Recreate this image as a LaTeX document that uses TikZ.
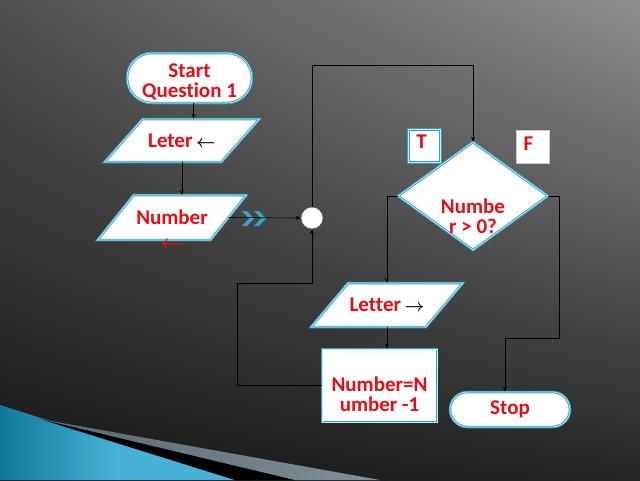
\documentclass[tikz,border=0pt]{standalone}
\usepackage{fontspec}
\usepackage{bm}
\setmainfont{Carlito}[Ligatures={NoCommon}]
\usetikzlibrary{shapes.misc,arrows.meta,calc,shadings}
\definecolor{tealb}{RGB}{50,160,192}
\definecolor{tealin}{RGB}{205,236,245}
\definecolor{txtred}{RGB}{232,12,22}
\definecolor{chevc}{RGB}{58,162,198}
\definecolor{bgul}{RGB}{80,80,80}
\definecolor{bgur}{RGB}{142,142,142}
\definecolor{bgll}{RGB}{22,22,22}
\definecolor{bglr}{RGB}{36,36,36}
\definecolor{blueA}{RGB}{16,122,156}
\definecolor{blueB}{RGB}{72,178,214}
\definecolor{grayA}{RGB}{88,104,112}
\definecolor{grayB}{RGB}{128,144,152}
\newcommand\paral[8]{% name, cx, cy, w, h, off, label opts, text
  \path[shapebox] ({#2-#4/2+#6/2},{#3-#5/2}) -- ({#2+#4/2+#6/2},{#3-#5/2})
     -- ({#2+#4/2-#6/2},{#3+#5/2}) -- ({#2-#4/2-#6/2},{#3+#5/2}) -- cycle;
  \node[ghost, minimum width=#4pt, minimum height=#5pt,
        label={[txt,#7]center:{#8}}] (#1) at (#2,#3) {};}
\newcommand\blackarrow[1]{{\color{black}\fontsize{17}{17}\selectfont$\bm{#1}$}}
\begin{document}
\begin{tikzpicture}[x=1pt,y=-1pt,
  shapebox/.style={fill=white, draw=tealb, line width=0.9pt, double=tealin, double distance=0.7pt},
  txt/.style={text=txtred, font=\fontsize{21}{20}\selectfont\bfseries, align=center, inner sep=0pt},
  ghost/.style={draw=none, fill=none, inner sep=0pt, rectangle},
  term/.style={shapebox, rounded rectangle, inner sep=0pt},
  arr/.style={draw=black, line width=0.6pt, -{Stealth[length=5pt,width=4pt]}}]
\useasboundingbox (0,0) rectangle (640,480);
% background
\shade[upper left=bgul, upper right=bgur, lower left=bgll, lower right=bglr] (0,0) rectangle (640,480);
\shade[left color=blueA, right color=blueB, middle color=blueB] (0,405) -- (235,480) -- (0,480) -- cycle;
\fill[black] (40,419) -- (235,480) -- (295,480) -- cycle;
\shade[left color=grayA, right color=grayB] (40,419) -- (295,480) -- (380,480) -- cycle;
% shapes
\node[term, minimum width=125pt, minimum height=50pt,
      label={[txt,yshift=-4pt]center:{Start\\Question 1}}] (start) at (189.5,78) {};
\paral{leter}{182}{140.5}{117}{43}{38}{}{Leter\,\blackarrow{\leftarrow}}
\paral{number}{172}{217.5}{113}{45}{36}{yshift=-12pt}{Number\\[5pt]{\fontsize{20}{20}\selectfont$\bm{\leftarrow}$}}
\paral{letter}{387}{305}{115}{44}{37}{}{Letter\,\blackarrow{\rightarrow}}
\path[shapebox] (473,142) -- (548,196) -- (473,250) -- (398,196) -- cycle;
\node[ghost, minimum width=150pt, minimum height=108pt,
      label={[txt,yshift=-20pt]center:{Numbe\\r > 0?}}] (dec) at (473,196) {};
\node[shapebox, rectangle, inner sep=0pt, minimum width=115pt, minimum height=73pt,
      label={[txt,yshift=-9pt]center:{Number=N\\umber -1}}] (upd) at (379.5,385.5) {};
\node[term, txt, minimum width=120pt, minimum height=35pt] (stop) at (510,409.5) {Stop};
\node[shapebox, rectangle, inner sep=0pt, minimum width=32pt, minimum height=33pt,
      label={[txt,xshift=-3pt,yshift=4pt]center:T}] (tbox) at (424.5,146) {};
\node[fill=white, draw=gray!40, line width=0.5pt, inner sep=0pt, minimum width=33pt, minimum height=33pt,
      label={[txt,xshift=-4pt,yshift=3pt]center:F}] (fbox) at (532.5,146.5) {};
\node[circle, fill=white, draw=black!70, line width=0.5pt, minimum size=22pt, inner sep=0pt] (jn) at (312,218) {};
% chevrons
\foreach \cx in {242,254}
  \fill[chevc] (\cx,211) -- (\cx+5,211) -- (\cx+12,218.5) -- (\cx+5,226) -- (\cx,226) -- (\cx+7,218.5) -- cycle;
% corner coordinates
\coordinate (ytop) at (0,65);
\coordinate (lcorner) at (237,283);
\coordinate (rcorner) at (559,338);
% connectors
\draw[arr] ([xshift=4pt]start.south) -- ([xshift=4pt]start.south |- leter.north);
\draw[arr] (leter.south) -- (leter.south |- number.north);
\draw[arr] (number.east) -- (jn.west);
\draw[arr] (jn.north) |- (ytop -| dec.north) -- (dec.north);
\draw[arr] (dec.west) -| (letter.north);
\draw[arr] (letter.south) -- (letter.south |- upd.north);
\draw[arr] (upd.west) -| (lcorner) -| (jn.south);
\draw[arr] (dec.east) -| (rcorner) -| ([xshift=-5pt]stop.north);
\end{tikzpicture}
\end{document}
